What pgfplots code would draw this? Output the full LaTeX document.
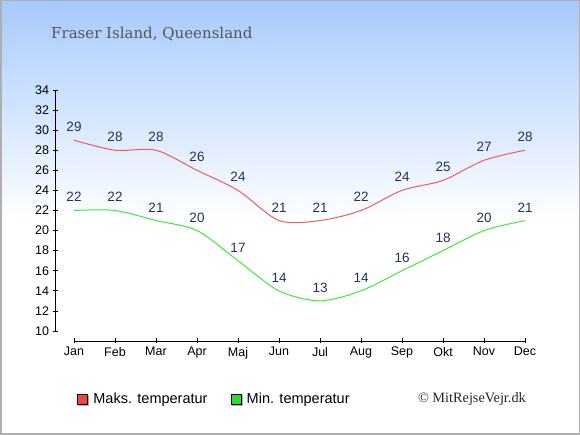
\documentclass[border=0pt]{standalone}
\usepackage{fontspec}
\setmainfont{Liberation Sans}
\newfontfamily\titlefont{DejaVu Serif}
\newfontfamily\copyfont{Liberation Serif}
\usepackage{pgfplots}
\pgfplotsset{compat=1.18}
\definecolor{bgtop}{RGB}{166,202,253}
\definecolor{maxline}{RGB}{240,92,92}
\definecolor{minline}{RGB}{64,232,64}
\definecolor{maxleg}{RGB}{238,68,68}
\definecolor{minleg}{RGB}{44,222,44}
\definecolor{lab}{RGB}{35,50,85}
\definecolor{titlegray}{RGB}{85,85,85}
\definecolor{bordergray}{RGB}{175,175,175}
\begin{document}
\begin{tikzpicture}[x=1bp,y=1bp]
\fill[white] (0,0) rectangle (580,435);
\shade[top color=bgtop, bottom color=white] (0,215) rectangle (580,435);
\draw[bordergray, line width=1.5bp] (0.75,0.75) rectangle (579.25,434.25);
\node[anchor=base west, inner sep=0pt, text=titlegray, font=\titlefont\fontsize{15bp}{18bp}\selectfont] at (51,396.7) {Fraser Island, Queensland};
\node[anchor=base east, inner sep=0pt, text=black!85, font=\copyfont\fontsize{14.3bp}{17bp}\selectfont] at (526,32.7) {\textcopyright\ MitRejseVejr.dk};
\begin{axis}[
  at={(55bp,94bp)}, anchor=south west,
  scale only axis, width=470bp, height=251bp,
  xmin=-0.4634, xmax=11, ymin=9.004, ymax=34,
  axis line style={draw=none},
  xtick={0,...,11},
  xticklabels={Jan,Feb,Mar,Apr,Maj,Jun,Jul,Aug,Sep,Okt,Nov,Dec},
  ytick={10,12,...,34},
  xtick pos=bottom, ytick pos=left,
  tick align=center, major tick length=5bp,
  tick style={black, line width=0.8bp},
  /pgf/number format/assume math mode=true,
  ticklabel style={font=\fontsize{12.5bp}{14bp}\selectfont},
  legend style={at={(0.0468,-0.231)}, anchor=west, draw=none, fill=none,
    inner sep=0pt, font=\fontsize{14.5bp}{17bp}\selectfont,
    /tikz/every even column/.append style={column sep=21bp}},
  legend columns=2,
  legend image code/.code={
    \path[draw=none,fill=none] (0bp,0bp) (14bp,0bp);
    \fill[black!30] (1bp,-6bp) rectangle (11bp,4bp);
    \fill[#1] (0bp,-5bp) rectangle (10bp,5bp);},
  clip=false,
]
\draw[black, line width=0.8bp] (axis cs:-0.4634,10) -- (axis cs:-0.4634,34);
\draw[black, line width=0.8bp] (axis cs:0,9.004) -- (axis cs:11,9.004);
\addlegendimage{fill=maxleg}
\addlegendentry{Maks. temperatur}
\addlegendimage{fill=minleg}
\addlegendentry{Min. temperatur}
\addplot[maxline, line width=1bp, smooth, forget plot,
  nodes near coords,
  nodes near coords style={anchor=base, yshift=8.5bp, inner sep=0pt, text=lab,
    font=\fontsize{13.5bp}{16bp}\selectfont}]
  coordinates {(0,29) (1,28) (2,28) (3,26) (4,24) (5,21) (6,21) (7,22) (8,24) (9,25) (10,27) (11,28)};
\addplot[minline, line width=1bp, smooth, forget plot,
  nodes near coords,
  nodes near coords style={anchor=base, yshift=8.5bp, inner sep=0pt, text=lab,
    font=\fontsize{13.5bp}{16bp}\selectfont}]
  coordinates {(0,22) (1,22) (2,21) (3,20) (4,17) (5,14) (6,13) (7,14) (8,16) (9,18) (10,20) (11,21)};
\end{axis}
\end{tikzpicture}
\end{document}
